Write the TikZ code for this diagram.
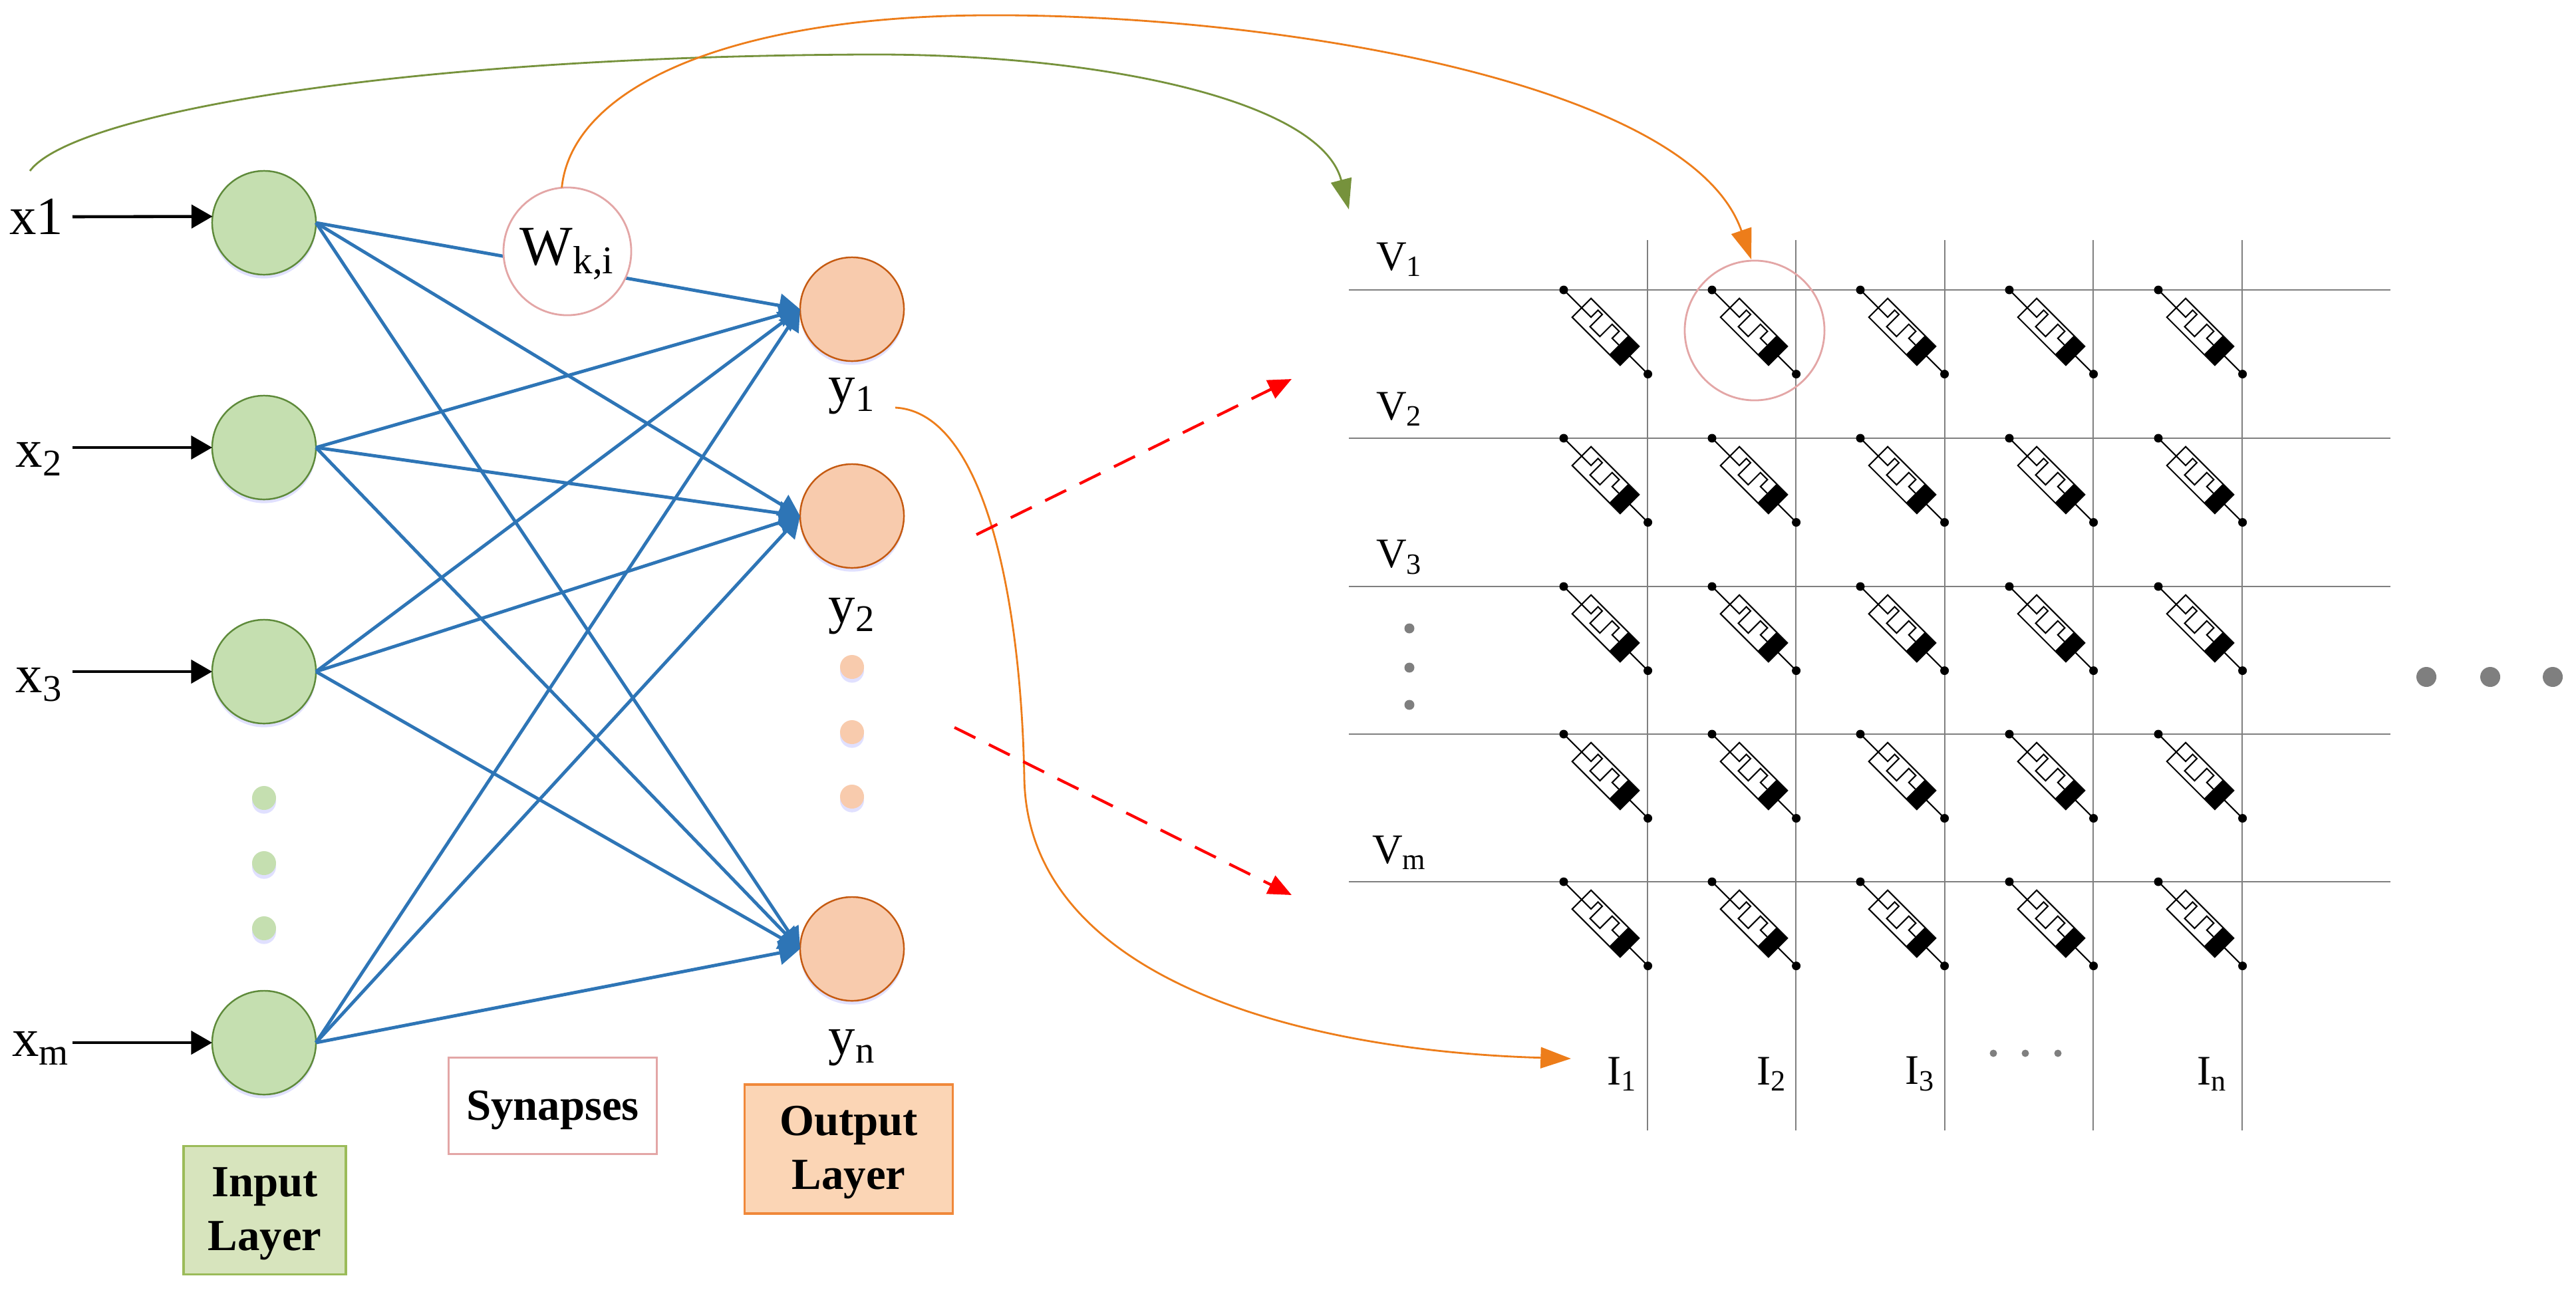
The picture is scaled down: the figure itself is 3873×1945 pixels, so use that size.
\documentclass[tikz,border=0pt]{standalone}
\usepackage{fontspec}
\setmainfont{Liberation Serif}
\usetikzlibrary{shapes,arrows.meta,positioning,calc,shadows}
\definecolor{inputfill}{HTML}{C5DFB0}
\definecolor{inputline}{HTML}{5E8A3A}
\definecolor{outputfill}{HTML}{F8CBAD}
\definecolor{outputline}{HTML}{C55A11}
\definecolor{synline}{HTML}{E3A6A6}
\definecolor{linkblue}{HTML}{2E75B6}
\definecolor{arcgreen}{HTML}{76923C}
\definecolor{arcorange}{HTML}{ED7D1A}
\definecolor{gridgray}{HTML}{7F7F7F}
\definecolor{inputbg}{HTML}{D7E4BD}
\definecolor{inputedge}{HTML}{9BBB59}
\definecolor{outputbg}{HTML}{FBD5B5}
\definecolor{outputedge}{HTML}{F0883A}
\tikzset{
    softshadow/.style={drop shadow={shadow xshift=0pt, shadow yshift=-1.6pt, fill=blue!35, opacity=.35}},
    pics/memristor/.style={code={
        \begin{scope}[x=.01cm, y=.01cm, rotate=-45, line width=.6pt]
            \draw (0,0) -- (38,0);
            \draw (38,-20) rectangle (140,20);
            \fill (117,-20) rectangle (140,20);
            \draw (38,0) -- (58,0) -- (58,15) -- (67,15) -- (67,-11) -- (88,-11) -- (88,15) -- (103,15) -- (103,0) -- (117,0);
            \draw (140,0) -- (179,0);
            \fill (0,0) circle (6.5);
            \fill (179,0) circle (6.5);
        \end{scope}
    }}
}

\begin{document}
\begin{tikzpicture}[
    x=.01cm, y=-.01cm,
    neuron/.style={circle, inner sep=0, outer sep=0, minimum size=1.56cm, line width=.7pt, softshadow},
    innode/.style={neuron, draw=inputline, fill=inputfill},
    outnode/.style={neuron, draw=outputline, fill=outputfill},
    indot/.style={circle, inner sep=0, minimum size=.36cm, fill=inputfill, softshadow},
    outdot/.style={circle, inner sep=0, minimum size=.36cm, fill=outputfill, softshadow},
    graydot/.style={circle, inner sep=0, fill=gridgray},
    label/.style={inner sep=0, font=\fontsize{23}{26}\selectfont},
    vlabel/.style={inner sep=0, font=\fontsize{18}{20}\selectfont},
    layerbox/.style={rectangle, minimum width=3.13cm, align=center, line width=1pt, font=\fontsize{19}{23}\selectfont\bfseries},
    feed/.style={-{Triangle[length=9pt, width=10pt]}, line width=1.3pt},
    link/.style={-{Triangle[length=9pt, width=10pt]}, line width=1.4pt, linkblue},
    arc/.style={-{Triangle[length=13pt, width=9pt]}, line width=.8pt},
    redarrow/.style={-{Triangle[length=10pt, width=8.5pt]}, line width=1.2pt, red, dash pattern=on 10pt off 6.4pt},
    gridline/.style={line width=.8pt, gridgray}
]
    \useasboundingbox (0,0) rectangle (3873,1945);

    % input layer
    \node[innode] (in1) at (397,335) {};
    \node[innode] (in2) at (397,673) {};
    \node[innode] (in3) at (397,1010) {};
    \node[innode] (inm) at (397,1568) {};
    \node[indot] (ind1) at (397,1200) {};
    \node[indot] (ind2) at (397,1298) {};
    \node[indot] (ind3) at (397,1396) {};

    % output layer
    \node[outnode] (out1) at (1281,465) {};
    \node[outnode] (out2) at (1281,776) {};
    \node[outnode] (outn) at (1281,1427) {};
    \node[outdot] (outd1) at (1281,1003) {};
    \node[outdot] (outd2) at (1281,1101) {};
    \node[outdot] (outd3) at (1281,1198) {};

    % input labels
    \node[label, anchor=east] (x1) at (96,326) {x1};
    \node[label, anchor=east] (x2) at (95,690) {x\textsubscript{2}};
    \node[label, anchor=east] (x3) at (95,1030) {x\textsubscript{3}};
    \node[label, anchor=east] (xm) at (105,1576) {x\textsubscript{m}};

    % output labels
    \node[label] (y1) at (1281,596) {y\textsubscript{1}};
    \node[label] (y2) at (1281,927) {y\textsubscript{2}};
    \node[label] (yn) at (1281,1576) {y\textsubscript{n}};

    % input arrows
    \coordinate (feed1) at (109,326);
    \coordinate (feed2) at (109,673);
    \coordinate (feed3) at (109,1010);
    \coordinate (feedm) at (109,1568);
    \draw[feed] (feed1) -- (in1.173);
    \draw[feed] (feed2) -- (in2.west);
    \draw[feed] (feed3) -- (in3.west);
    \draw[feed] (feedm) -- (inm.west);

    % synapse links
    \draw[link] (in1.east) -- (out1.west);
    \draw[link] (in1.east) -- (out2.west);
    \draw[link] (in1.east) -- (outn.west);
    \draw[link] (in2.east) -- (out1.west);
    \draw[link] (in2.east) -- (out2.west);
    \draw[link] (in2.east) -- (outn.west);
    \draw[link] (in3.east) -- (out1.west);
    \draw[link] (in3.east) -- (out2.west);
    \draw[link] (in3.east) -- (outn.west);
    \draw[link] (inm.east) -- (out1.west);
    \draw[link] (inm.east) -- (out2.west);
    \draw[link] (inm.east) -- (outn.west);

    \node[circle, draw=synline, fill=white, inner sep=0, outer sep=0, minimum size=1.92cm, line width=.8pt, font=\fontsize{24}{26}\selectfont, text height=18pt] (wki) at (853,378) {W\textsubscript{k,i}};

    % legend boxes
    \node[layerbox, minimum width=2.44cm, minimum height=1.93cm, draw=inputedge, fill=inputbg, text height=38.3pt] (inputbox) at (398,1820) {Input\\Layer};
    \node[layerbox, minimum height=1.45cm, draw=synline, fill=white, text height=16.5pt] (synbox) at (831,1663) {Synapses};
    \node[layerbox, minimum height=1.94cm, draw=outputedge, fill=outputbg, text height=38.3pt] (outputbox) at (1276,1728) {Output\\Layer};

    % crossbar lines
    \foreach \y [count=\r] in {436,659,882,1104,1326} {
        \coordinate (rowa\r) at (2028,\y);
        \coordinate (rowb\r) at (3594,\y);
        \draw[gridline] (rowa\r) -- (rowb\r);
    }
    \foreach \x [count=\c] in {2477,2700,2924,3147,3371} {
        \coordinate (cola\c) at (\x,361);
        \coordinate (colb\c) at (\x,1700);
        \draw[gridline] (cola\c) -- (colb\c);
    }

    % memristors
    \foreach \y in {436,659,882,1104,1326} {
        \foreach \x in {2351,2574,2797,3021,3245} {
            \pic at (\x,\y) {memristor};
        }
    }
    \node[circle, draw=synline, inner sep=0, outer sep=0, minimum size=2.1cm, line width=.8pt] (focus) at (2638,497) {};

    % crossbar labels
    \node[vlabel] (v1) at (2104,390) {V\textsubscript{1}};
    \node[vlabel] (v2) at (2104,615) {V\textsubscript{2}};
    \node[vlabel] (v3) at (2104,838) {V\textsubscript{3}};
    \node[vlabel] (vm) at (2104,1282) {V\textsubscript{m}};
    \node[vlabel] (i1) at (2439,1615) {I\textsubscript{1}};
    \node[vlabel] (i2) at (2664,1615) {I\textsubscript{2}};
    \node[vlabel] (i3) at (2887,1615) {I\textsubscript{3}};
    \node[vlabel] (in) at (3326,1615) {I\textsubscript{n}};

    % gray dots
    \foreach \y [count=\i] in {945,1004,1060} {
        \node[graydot, minimum size=.15cm] (vd\i) at (2119,\y) {};
    }
    \foreach \x [count=\i] in {2997,3045,3094} {
        \node[graydot, minimum size=.11cm] (id\i) at (\x,1584) {};
    }
    \foreach \x [count=\i] in {3648,3744,3838} {
        \node[graydot, minimum size=.3cm] (bigd\i) at (\x,1018) {};
    }

    % curved arrows
    \coordinate (greenstart) at (45,257);
    \coordinate (greenend) at (2028,315);
    \coordinate (y1start) at (1346,613);
    \coordinate (curveend) at (2362,1592);
    \coordinate (focustop) at (2633,390);
    \draw[arc, arcgreen] (greenstart) .. controls (110,170) and (600,85) .. (1300,82) .. controls (1650,80) and (1985,150) .. (greenend);
    \draw[arc, arcorange] (wki.95) .. controls (860,130) and (1100,25) .. (1479,23) .. controls (1900,20) and (2540,120) .. (focustop);
    \draw[arc, arcorange] (y1start) .. controls (1480,620) and (1535,900) .. (1540,1170) .. controls (1545,1470) and (1950,1580) .. (curveend);

    % red dashed arrows
    \coordinate (reda) at (1468,804);
    \coordinate (redb) at (1942,570);
    \coordinate (redc) at (1435,1094);
    \coordinate (redd) at (1942,1346);
    \draw[redarrow] (reda) -- (redb);
    \draw[redarrow] (redc) -- (redd);
\end{tikzpicture}
\end{document}
